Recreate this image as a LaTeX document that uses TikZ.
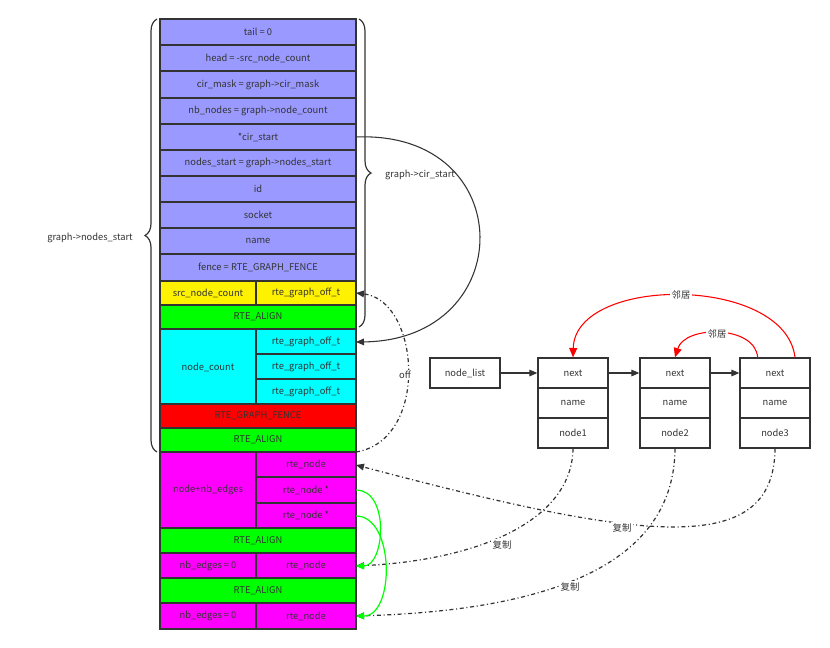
\documentclass[tikz,border=0pt]{standalone}
\usepackage{fontspec}
\setmainfont{Noto Sans CJK SC}
\usetikzlibrary{arrows.meta,decorations.pathreplacing}
\definecolor{pur}{HTML}{9999FF}
\definecolor{grn}{HTML}{00FF00}
\definecolor{cyn}{HTML}{00FFFF}
\definecolor{mag}{HTML}{FF00FF}
\definecolor{txt}{HTML}{333333}
\begin{document}
\begin{tikzpicture}[x=0.75pt,y=-0.75pt,
  cell/.style={draw=txt,line width=0.8pt,text=txt,font=\fontsize{7}{8}\selectfont},
  lbl/.style={text=txt,font=\fontsize{7}{8}\selectfont,fill=white,inner sep=1pt},
  arr/.style={-{Triangle[length=6pt,width=5pt]},draw=txt,line width=0.8pt},
  dd/.style={arr,dash dot,line width=0.9pt}]
\useasboundingbox (0,0) rectangle (830,647);
\newcommand{\cellbox}[6]{\path[cell,fill=#5] (#1,#3) rectangle (#2,#4); \node[text=txt,font=\fontsize{7}{8}\selectfont] (#6) at ({(#1+#2)/2},{(#3+#4)/2}) {\strut #6};}
\def\rowA#1#2#3#4#5{\draw[cell,fill=#4] (160,#1) rectangle (356,#2); \node[text=txt,font=\fontsize{7}{8}\selectfont] (#5) at (258,{(#1+#2)/2}) {#3};}
\rowA{19}{45}{tail = 0}{pur}{r1}
\rowA{45}{71}{head = -src\_node\_count}{pur}{r2}
\rowA{71}{98}{cir\_mask = graph->cir\_mask}{pur}{r3}
\rowA{98}{124}{nb\_nodes = graph->node\_count}{pur}{r4}
\rowA{124}{150}{*cir\_start}{pur}{r5}
\rowA{150}{176}{nodes\_start = graph->nodes\_start}{pur}{r6}
\rowA{176}{202}{id}{pur}{r7}
\rowA{202}{228}{socket}{pur}{r8}
\rowA{228}{254}{name}{pur}{r9}
\rowA{254}{281}{fence = RTE\_GRAPH\_FENCE}{pur}{r10}
\def\rowB#1#2#3#4#5#6{\draw[cell,fill=#4] (160,#1) rectangle (256,#2); \node[text=txt,font=\fontsize{7}{8}\selectfont] at (208,{(#1+#2)/2}) {#3};\draw[cell,fill=#4] (256,#1) rectangle (356,#2); \node[text=txt,font=\fontsize{7}{8}\selectfont] (#6) at (306,{(#1+#2)/2}) {#5};}
\rowB{281}{305}{src\_node\_count}{yellow}{rte\_graph\_off\_t}{s1}
\rowA{305}{329}{RTE\_ALIGN}{grn}{a1}
\draw[cell,fill=cyn] (160,329) rectangle (256,404); \node[text=txt,font=\fontsize{7}{8}\selectfont] at (208,367) {node\_count};
\foreach \t/\b/\n in {329/354/c1,354/379/c2,379/404/c3}{\draw[cell,fill=cyn] (256,\t) rectangle (356,\b); \node[text=txt,font=\fontsize{7}{8}\selectfont] (\n) at (306,{(\t+\b)/2}) {rte\_graph\_off\_t};}
\rowA{404}{428}{RTE\_GRAPH\_FENCE}{red}{f1}
\rowA{428}{452}{RTE\_ALIGN}{grn}{a2}
\draw[cell,fill=mag] (160,452) rectangle (256,528); \node[text=txt,font=\fontsize{7}{8}\selectfont] at (208,490) {node+nb\_edges};
\foreach \t/\b/\n/\s in {452/477/m1/rte\_node,477/503/m2/rte\_node *,503/528/m3/rte\_node *}{\draw[cell,fill=mag] (256,\t) rectangle (356,\b); \node[text=txt,font=\fontsize{7}{8}\selectfont] (\n) at (306,{(\t+\b)/2}) {\s};}
\rowA{528}{553}{RTE\_ALIGN}{grn}{a3}
\rowB{553}{578}{nb\_edges = 0}{mag}{rte\_node}{e1}
\rowA{578}{603}{RTE\_ALIGN}{grn}{a4}
\rowB{603}{629}{nb\_edges = 0}{mag}{rte\_node}{e2}
% braces
\draw[txt,line width=0.9pt,decorate,decoration={brace,amplitude=9pt}] (157,452) -- (157,19);
\node[lbl] (bl) at (90,238) {graph->nodes\_start};
\draw[txt,line width=0.9pt,decorate,decoration={brace,amplitude=9pt}] (359,19) -- (359,327);
\node[lbl] (br) at (420,175) {graph->cir\_start};
% cir_start curve
\coordinate (p5) at (356,137);
\coordinate (pc1) at (356,342);
\draw[arr] (p5) .. controls (520,130) and (520,340) .. (pc1);
% off
\coordinate (pa2) at (356,452);
\coordinate (ps1) at (356,293);
\draw[dd] (pa2) .. controls (430,440) and (420,300) .. (ps1);
\node[lbl] at (405,375) {off};
% right list
\tikzset{ln/.style={draw=txt,line width=1pt,text=txt,font=\fontsize{7}{8}\selectfont,minimum width=52.5pt,minimum height=22.5pt,inner sep=0pt}}
\node[ln] (nl) at (465,373) {node\_list};
\foreach \x/\k in {573/1,675/2,775/3}{
 \node[ln] (n\k a) at (\x,373) {next};
 \node[ln] (n\k b) at (\x,403) {name};
 \node[ln] (n\k c) at (\x,433) {node\k};}
\draw[arr] (nl) -- (n1a);
\draw[arr] (n1a) -- (n2a);
\draw[arr] (n2a) -- (n3a);
\draw[arr,draw=red,-{Triangle[length=7pt,width=6pt]}] ([xshift=15pt]n3a.north) .. controls (785,275) and (575,275) .. (n1a.north);
\node[lbl,fill=white] at (681,295) {邻居};
\draw[arr,draw=red,-{Triangle[length=7pt,width=6pt]}] ([xshift=-13pt]n3a.north) .. controls (755,325) and (685,325) .. (n2a.north);
\node[lbl] at (717,334) {邻居};
% copies
\coordinate (ce1) at (356,566);
\coordinate (ce2) at (356,616);
\coordinate (cm1) at (356,465);
\draw[dd] (n1c.south) .. controls (572,520) and (480,560) .. (ce1);
\node[lbl] at (502,545) {复制};
\draw[dd] (n2c.south) .. controls (674,560) and (560,610) .. (ce2);
\node[lbl] at (570,587) {复制};
\draw[dd] (n3c.south) .. controls (774,560) and (640,540) .. (cm1);
\node[lbl] at (622,528) {复制};
% green
\coordinate (g1) at (356,490);
\coordinate (g2) at (356,516);
\draw[grn,line width=0.9pt,-{Triangle[length=6pt,width=5pt]}] (g1) .. controls (390,490) and (385,566) .. (ce1);
\draw[grn,line width=0.9pt,-{Triangle[length=6pt,width=5pt]}] (g2) .. controls (395,516) and (395,616) .. (ce2);
\end{tikzpicture}
\end{document}
